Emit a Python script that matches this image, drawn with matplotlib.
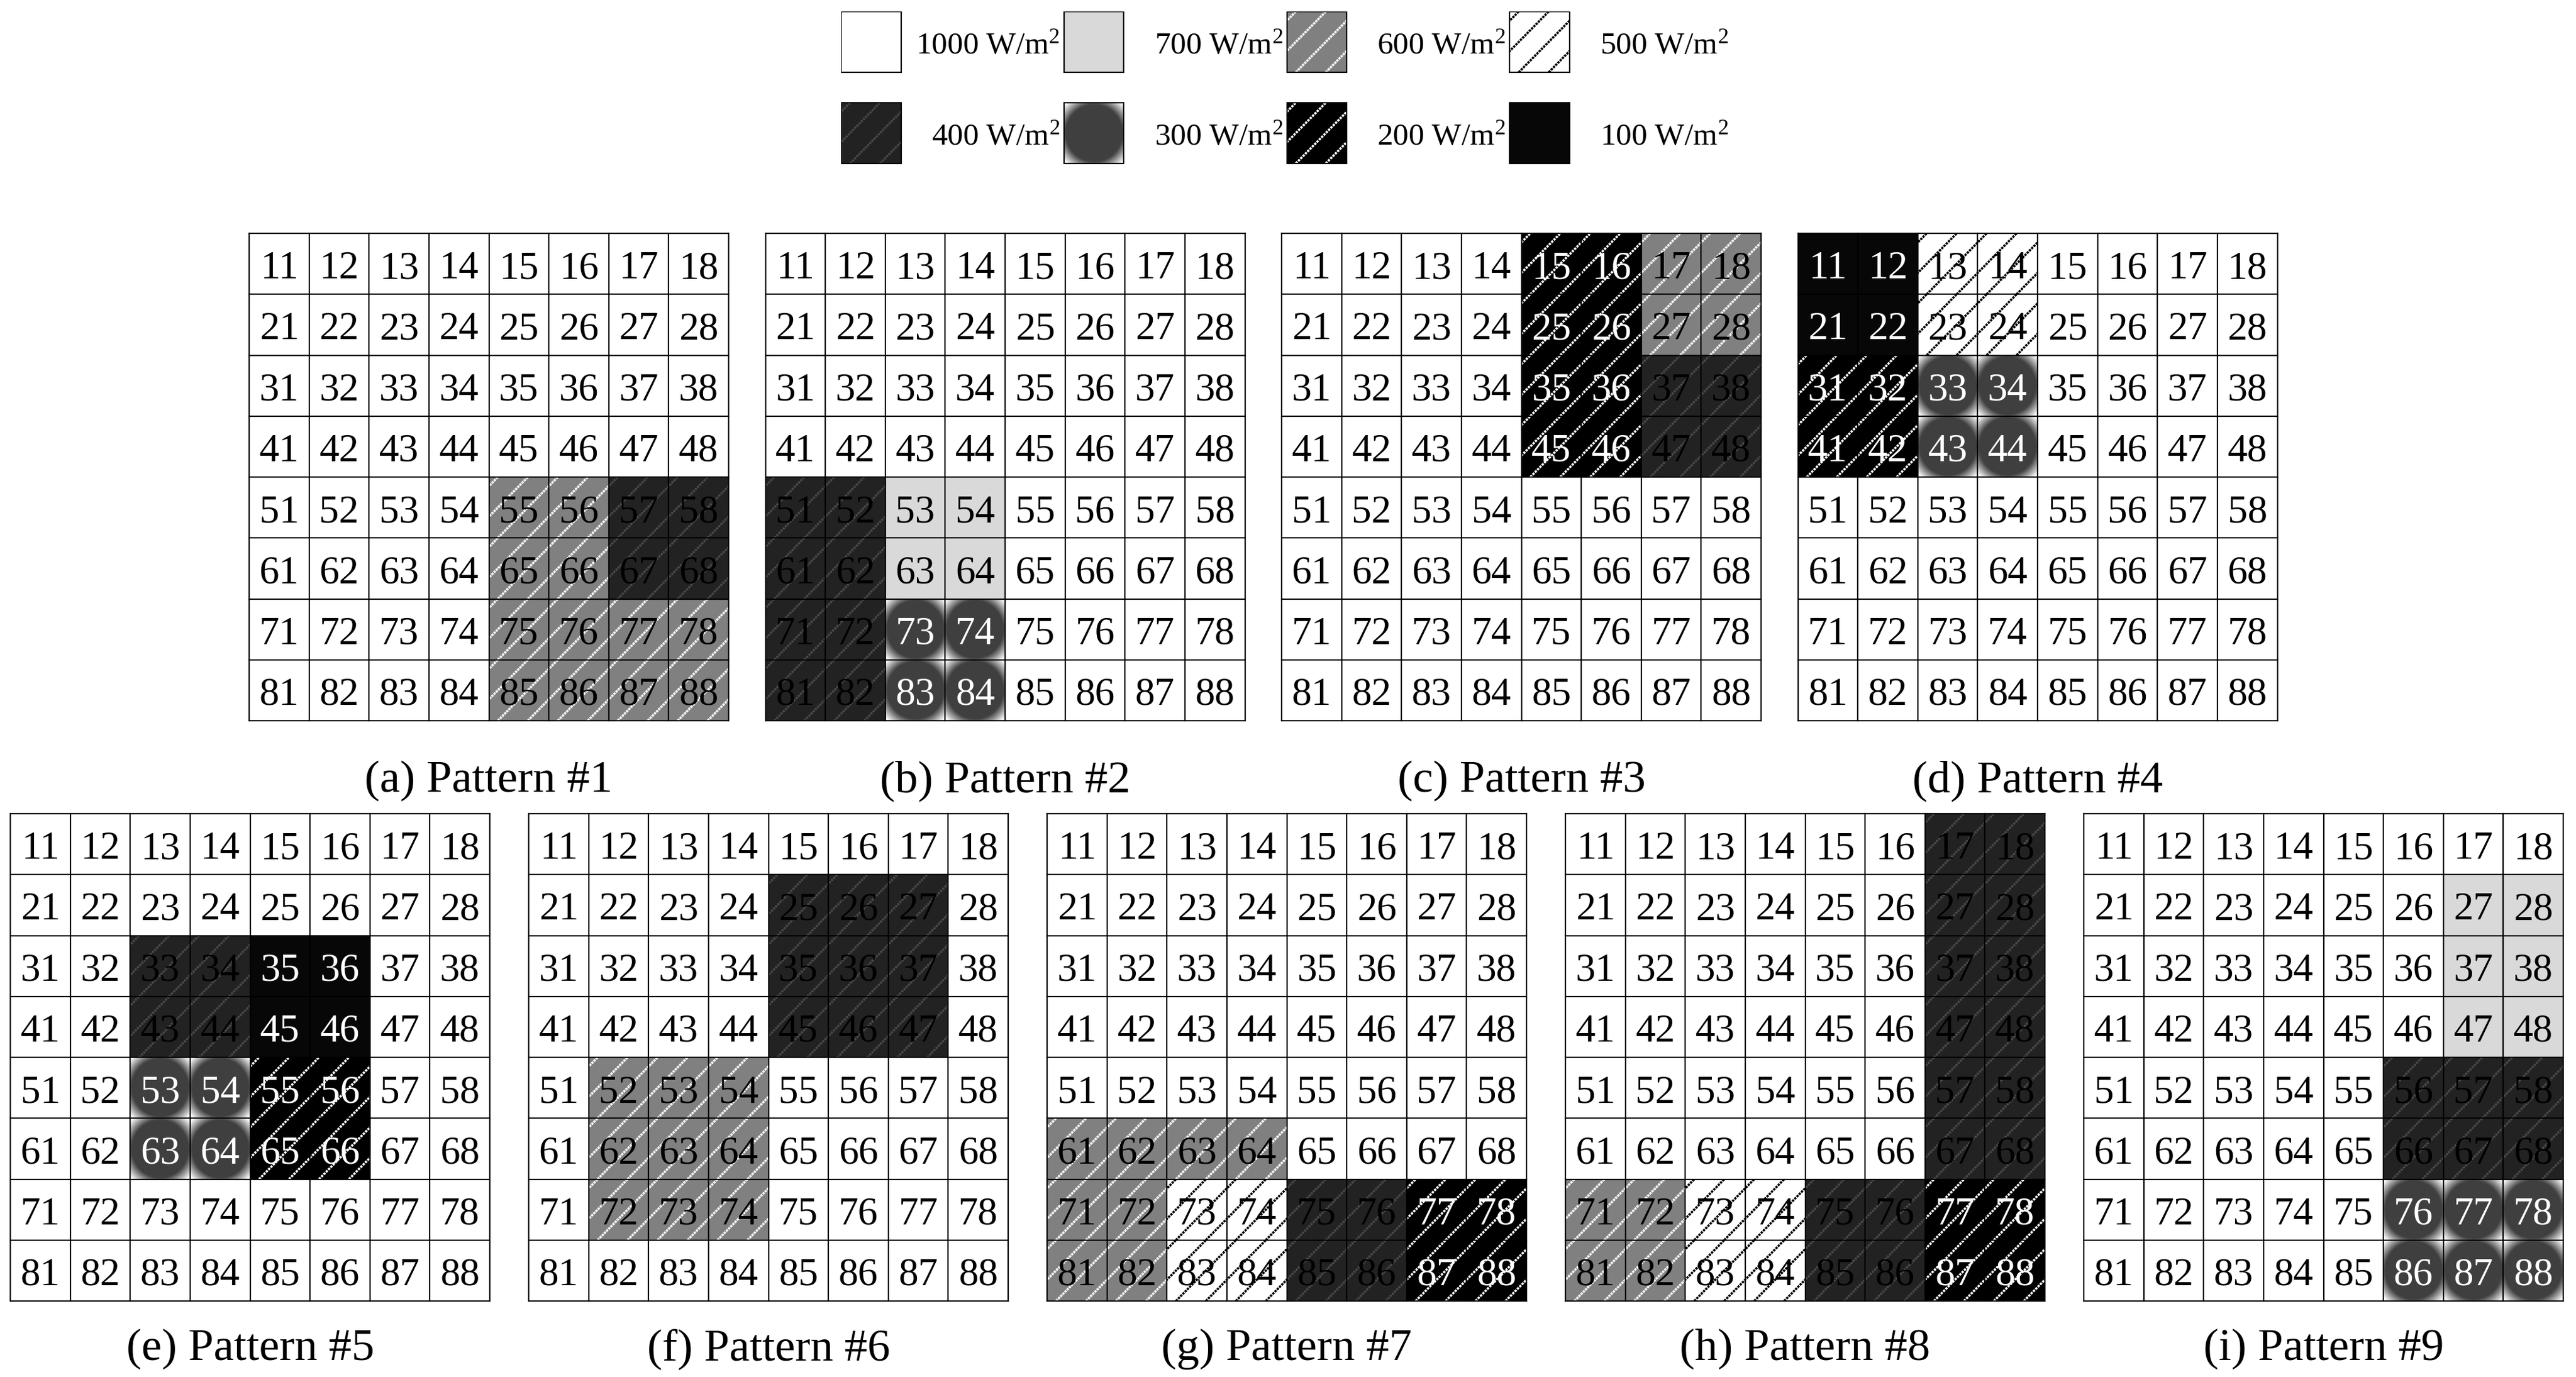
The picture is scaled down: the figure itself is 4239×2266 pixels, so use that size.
import numpy as np
import matplotlib
matplotlib.use('Agg')
import matplotlib.pyplot as plt
from matplotlib.patches import Rectangle

plt.rcParams['font.family'] = ['Liberation Serif', 'DejaVu Serif']
plt.rcParams['mathtext.fontset'] = 'custom'
plt.rcParams['mathtext.rm'] = 'Liberation Serif'
plt.rcParams['mathtext.it'] = 'Liberation Serif:italic'

W, H = 4239, 2266

# irradiance levels (W/m2) and legend labels
levels = [1000, 700, 600, 500, 400, 300, 200, 100]
level_labels = ['%d W/m$^2$' % v for v in levels]

# shaded modules of each pattern, everything else is 1000 W/m2
pattern1 = {600: [55, 56, 65, 66, 75, 76, 77, 78, 85, 86, 87, 88],
            400: [57, 58, 67, 68]}
pattern2 = {400: [51, 52, 61, 62, 71, 72, 81, 82],
            700: [53, 54, 63, 64],
            300: [73, 74, 83, 84]}
pattern3 = {200: [15, 16, 25, 26, 35, 36, 45, 46],
            600: [17, 18, 27, 28],
            400: [37, 38, 47, 48]}
pattern4 = {100: [11, 12, 21, 22],
            500: [13, 14, 23, 24],
            200: [31, 32, 41, 42],
            300: [33, 34, 43, 44]}
pattern5 = {400: [33, 34, 43, 44],
            100: [35, 36, 45, 46],
            300: [53, 54, 63, 64],
            200: [55, 56, 65, 66]}
pattern6 = {400: [25, 26, 27, 35, 36, 37, 45, 46, 47],
            600: [52, 53, 54, 62, 63, 64, 72, 73, 74]}
pattern7 = {600: [61, 62, 63, 64, 71, 72, 81, 82],
            500: [73, 74, 83, 84],
            400: [75, 76, 85, 86],
            200: [77, 78, 87, 88]}
pattern8 = {400: [17, 18, 27, 28, 37, 38, 47, 48, 57, 58, 67, 68, 75, 76, 85, 86],
            600: [71, 72, 81, 82],
            500: [73, 74, 83, 84],
            200: [77, 78, 87, 88]}
pattern9 = {700: [27, 28, 37, 38, 47, 48],
            400: [56, 57, 58, 66, 67, 68],
            300: [76, 77, 78, 86, 87, 88]}
patterns = [pattern1, pattern2, pattern3, pattern4, pattern5,
            pattern6, pattern7, pattern8, pattern9]
captions = ['(a) Pattern #1', '(b) Pattern #2', '(c) Pattern #3', '(d) Pattern #4',
            '(e) Pattern #5', '(f) Pattern #6', '(g) Pattern #7', '(h) Pattern #8',
            '(i) Pattern #9']

# look of each level: background, then stripe colour / width / dashes
fill = {1000: '#ffffff', 700: '#d9d9d9', 600: '#808080', 500: '#ffffff',
        400: '#222222', 300: '#ffffff', 200: '#000000', 100: '#070707'}
stripes = {600: ('#f2f2f2', 2.8, (1.0, 0.3)),
           500: ('#000000', 2.7, (1.0, 0.4)),
           400: ('#4a4a4a', 2.6, (1.0, 0.4)),
           200: ('#ffffff', 2.7, (1.0, 0.45))}
white_text = [300, 200, 100]


def radial_image(n=64):
    yy, xx = np.mgrid[0:n, 0:n]
    d = np.hypot((xx + 0.5) / n - 0.5, (yy + 0.5) / n - 0.5)
    t = np.clip((d - 0.47) / 0.2, 0, 1)
    g = 0.25 + 0.75 * t
    return np.dstack([g, g, g])


GRAD = radial_image()


def draw_cell(ax, x, y, level, spacing=0.5):
    ax.add_patch(Rectangle((x, y), 1, 1, facecolor=fill[level], edgecolor='none', zorder=1))
    if level == 300:
        ax.imshow(GRAD, extent=(x, x + 1, y + 1, y), zorder=1.5,
                  interpolation='bilinear', aspect='auto')
    if level in stripes:
        col, lw, dash = stripes[level]
        clip = Rectangle((x, y), 1, 1, transform=ax.transData)
        for x0 in np.arange(x - 1 + 0.15, x + 1 + spacing, spacing):
            ln, = ax.plot([x0, x0 + 1], [y + 1, y], color=col, lw=lw,
                          dashes=dash, solid_capstyle='butt', zorder=2)
            ln.set_clip_path(clip)


def px_axes(fig, left, top, width, height):
    return fig.add_axes([left / W, 1 - (top + height) / H, width / W, height / H])


fig = plt.figure(figsize=(W / 100, H / 100), dpi=100)

# grid placement (pixels)
gw, gh = 789, 802
tops = [384] * 4 + [1339] * 5
lefts = [410 + i * 849.5 for i in range(4)] + [17 + i * 853 for i in range(5)]
cap_base = [1303] * 4 + [2238] * 5

for k, pat in enumerate(patterns):
    grid = np.full((8, 8), 1000)
    for lev, cells in pat.items():
        for c in cells:
            grid[c // 10 - 1, c % 10 - 1] = lev

    ax = px_axes(fig, lefts[k], tops[k], gw, gh)
    for r in range(8):
        for c in range(8):
            lev = grid[r, c]
            draw_cell(ax, c, r, lev)
            ax.text(c + 0.5, r + 0.74, str((r + 1) * 10 + c + 1), ha='center', va='baseline',
                    fontsize=47, color='white' if lev in white_text else 'black', zorder=4)
    for i in range(9):
        ax.plot([0, 8], [i, i], color='black', lw=1.6, zorder=3, clip_on=False)
        ax.plot([i, i], [0, 8], color='black', lw=1.6, zorder=3, clip_on=False)
    ax.set_xlim(0, 8)
    ax.set_ylim(8, 0)
    ax.axis('off')

    fig.text((lefts[k] + gw / 2) / W, 1 - cap_base[k] / H, captions[k],
             ha='center', va='baseline', fontsize=54)

# legend
lax = px_axes(fig, 1384, 19, 1500, 252)
ux = 98.6
for i, lev in enumerate(levels):
    col, row = i % 4, i // 4
    x = col * 3.72
    y = row * 1.5
    draw_cell(lax, x, y, lev)
    lax.add_patch(Rectangle((x, y), 1, 1, facecolor='none', edgecolor='black', lw=1.6, zorder=3))
    lax.text(x + 3.65, y + 0.69, level_labels[i], ha='right', va='baseline', fontsize=37)
lax.set_xlim(0, 1500 / ux)
lax.set_ylim(2.52, 0)
lax.axis('off')

fig.savefig('out.png', dpi=100)
